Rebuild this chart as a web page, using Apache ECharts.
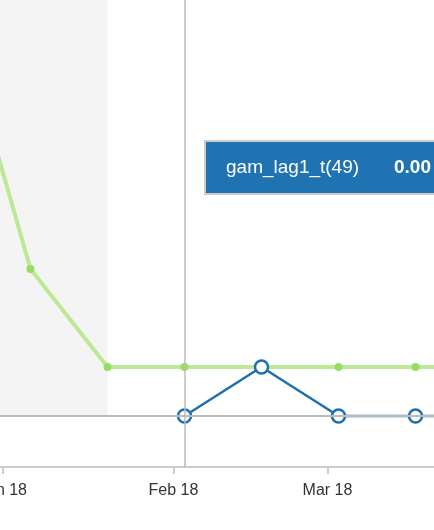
<!DOCTYPE html><html><head><meta charset="utf-8"><script src="https://cdn.jsdelivr.net/npm/echarts@6/dist/echarts.min.js"></script>
<style>html,body{margin:0;padding:0;background:#fff}#c{width:434px;height:530px}</style></head><body><div id="c"></div><script>
const greenDates=['2017-12-23','2018-01-06','2018-01-20','2018-02-03','2018-02-17','2018-03-03','2018-03-17','2018-03-31'];
const greenValues=[8.5,3,1,1,1,1,1,1];
const blueDates=['2018-02-03','2018-02-17','2018-03-03','2018-03-17','2018-03-31'];
const blueValues=[0,1,0,0,0];
const monthNames=['Jan','Feb','Mar','Apr','May','Jun','Jul','Aug','Sep','Oct','Nov','Dec'];
const tooltipName='gam_lag1_t(49)';
const tooltipValue='0.00';
const F='"Helvetica Neue",Helvetica,"Liberation Sans",Arial,sans-serif';
const DAY=86400000;
const xMin=Date.UTC(2018,0,1)-0.545*DAY, xMax=Date.UTC(2018,0,1)+78.36*DAY;
const chart=echarts.init(document.getElementById('c'),null,{useUTC:true});
chart.setOption({
 animation:false,useUTC:true,
 grid:{left:0,right:0,top:0,bottom:63,outerBoundsMode:'none'},
 xAxis:{type:'time',min:xMin,max:xMax,minInterval:28*DAY,
  axisLine:{onZero:false,lineStyle:{color:'#ccc',width:2}},axisTick:{show:true,length:7,lineStyle:{color:'#ccc',width:2}},
  splitLine:{show:false},
  axisLabel:{fontSize:16,color:'#333',fontFamily:F,margin:16,hideOverlap:false,showMinLabel:false,showMaxLabel:false,
   formatter:v=>{const d=new Date(v);return d.getUTCDate()===1?monthNames[d.getUTCMonth()]+' '+String(d.getUTCFullYear()).slice(2):'';}}},
 yAxis:{type:'value',min:-1.04,max:8.49,show:false,splitLine:{show:false}},
 series:[
  {type:'line',data:greenDates.map((d,i)=>[d,greenValues[i]]),symbol:'circle',symbolSize:8,z:2,
   lineStyle:{color:'#bde895',width:4},itemStyle:{color:'#95de64'},
   markArea:{silent:true,itemStyle:{color:'#f4f4f4'},data:[[{coord:[xMin,0]},{coord:['2018-01-20',8.49]}]]},
   markLine:{silent:true,symbol:'none',label:{show:false},lineStyle:{color:'#bbb',width:2,type:'solid'},data:[{yAxis:0}]}},
  {type:'line',data:blueDates.map((d,i)=>[d,blueValues[i]]),symbol:'circle',symbolSize:13,z:3,
   lineStyle:{color:'#1f6fad',width:2.5},itemStyle:{color:'#fff',borderColor:'#1f6fad',borderWidth:2.5},
   markLine:{silent:true,symbol:'none',label:{show:false},lineStyle:{color:'#bbb',width:1.5,type:'solid'},data:[{xAxis:'2018-02-03'}]}}
 ],
 graphic:[{type:'group',left:204,top:140,children:[
  {type:'rect',shape:{x:0,y:0,width:260,height:53},style:{fill:'#1f73b2',stroke:'#ccc',lineWidth:2}},
  {type:'text',x:21,y:27,style:{text:tooltipName,fill:'#fff',font:'19px '+F,verticalAlign:'middle'}},
  {type:'text',x:189,y:27,style:{text:tooltipValue,fill:'#fff',font:'bold 19px '+F,verticalAlign:'middle'}}
 ]}]
});
</script></body></html>
